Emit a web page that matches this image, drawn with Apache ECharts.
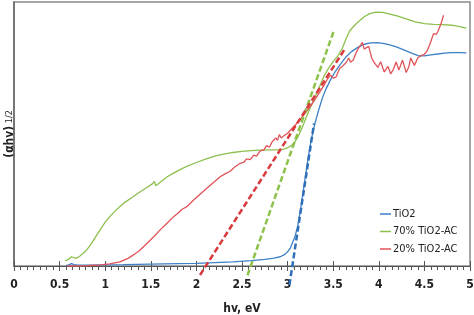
<!DOCTYPE html>
<html>
<head>
<meta charset="utf-8">
<script src="https://cdn.jsdelivr.net/npm/echarts@6/dist/echarts.min.js"></script>
<style>
  html, body { margin: 0; padding: 0; background: #fff; }
  #Mycharts { width: 474px; height: 315px; }
</style>
</head>
<body>
<div id="Mycharts"></div>
<script>
// x tick labels (hv, eV)
var xTicks = [0, 0.5, 1, 1.5, 2, 2.5, 3, 3.5, 4, 4.5, 5]
var legendNames = ['TiO2', '70% TiO2-AC', '20% TiO2-AC']

// measured curves, [hv, (αhv)^1/2] in arbitrary units (0..100)
var tio2 = [[0.57, 0.1], [0.6, 0.4], [0.63, 0.9], [0.66, 0.5], [0.7, 0.3], [0.8, 0.3], [1.0, 0.4], [1.2, 0.5], [1.5, 0.7], [1.8, 0.9], [2.0, 1.0], [2.2, 1.3], [2.4, 1.6], [2.6, 2.0], [2.75, 2.5], [2.85, 3.0], [2.92, 3.5], [2.97, 4.4], [3.0, 5.4], [3.03, 6.8], [3.05, 8.5], [3.08, 11], [3.11, 15], [3.14, 21], [3.17, 28], [3.2, 35], [3.23, 42], [3.26, 48], [3.3, 54], [3.34, 59], [3.38, 63.5], [3.42, 67], [3.47, 70.5], [3.52, 73.5], [3.58, 76.5], [3.64, 79.2], [3.7, 81.2], [3.77, 82.8], [3.84, 84], [3.91, 84.5], [3.99, 84.6], [4.06, 84.2], [4.13, 83.7], [4.2, 82.9], [4.28, 81.8], [4.36, 80.6], [4.43, 79.7], [4.5, 79.6], [4.57, 80], [4.65, 80.3], [4.72, 80.6], [4.8, 80.8], [4.88, 80.8], [4.96, 80.7]]
var tio2ac70 = [[0.56, 1.9], [0.6, 2.6], [0.63, 3.5], [0.65, 2.8], [0.68, 2.9], [0.72, 3.7], [0.76, 4.8], [0.8, 6.2], [0.85, 8.6], [0.9, 11.3], [0.95, 14], [1.0, 16.6], [1.05, 18.7], [1.1, 20.5], [1.16, 22.5], [1.22, 24.2], [1.31, 26.3], [1.38, 28], [1.46, 29.8], [1.52, 31.2], [1.54, 32], [1.555, 30.4], [1.6, 31.6], [1.68, 33.8], [1.75, 35.2], [1.82, 36.5], [1.9, 37.8], [2.0, 39.2], [2.1, 40.5], [2.2, 41.6], [2.3, 42.4], [2.4, 43], [2.5, 43.4], [2.6, 43.7], [2.7, 43.9], [2.8, 44], [2.9, 44], [2.96, 44.3], [3.0, 44.8], [3.04, 45.6], [3.08, 47], [3.12, 49.3], [3.16, 52.5], [3.2, 56], [3.25, 60], [3.3, 64], [3.35, 68], [3.4, 72], [3.45, 75], [3.5, 77.5], [3.55, 79.5], [3.6, 82.5], [3.64, 86], [3.68, 89], [3.73, 91], [3.78, 92.6], [3.84, 94.4], [3.9, 95.6], [3.97, 96.2], [4.04, 96.1], [4.1, 95.6], [4.2, 94.7], [4.3, 93.6], [4.4, 92.5], [4.5, 91.8], [4.6, 91.5], [4.7, 91.4], [4.8, 91.2], [4.9, 90.6], [4.96, 90.1]]
var tio2ac20 = [[0.58, 0], [0.7, 0], [0.8, 0.1], [0.95, 0.4], [1.05, 0.8], [1.16, 1.6], [1.25, 2.9], [1.31, 4.2], [1.38, 6], [1.46, 8.6], [1.53, 11], [1.6, 13.6], [1.68, 16.3], [1.75, 18.7], [1.8, 20.1], [1.84, 21.4], [1.86, 21], [1.9, 22.6], [1.97, 25], [2.04, 27.2], [2.12, 29.6], [2.2, 32], [2.26, 33.8], [2.32, 35], [2.37, 35.9], [2.42, 37.5], [2.48, 38.9], [2.52, 39.3], [2.55, 40.6], [2.59, 40.3], [2.63, 42], [2.66, 41.6], [2.7, 43.6], [2.74, 44], [2.77, 45.6], [2.8, 45], [2.83, 47], [2.85, 46.5], [2.87, 48.5], [2.89, 47.6], [2.91, 49.8], [2.93, 48.5], [2.96, 49.3], [3.0, 50.3], [3.05, 52.2], [3.1, 54], [3.15, 56], [3.2, 58.2], [3.25, 60.5], [3.3, 63], [3.35, 65.8], [3.4, 68.5], [3.44, 71], [3.47, 72.3], [3.5, 71.2], [3.53, 71.5], [3.57, 74.8], [3.6, 75.6], [3.64, 77], [3.67, 78.8], [3.69, 77.2], [3.72, 78], [3.75, 80.7], [3.78, 82.6], [3.82, 84.7], [3.84, 82.2], [3.86, 81.5], [3.89, 83.2], [3.92, 79], [3.95, 77], [3.99, 75.2], [4.02, 77.4], [4.06, 73.5], [4.1, 75.6], [4.13, 72.8], [4.16, 74.5], [4.19, 77.3], [4.22, 74.2], [4.26, 78], [4.3, 73.3], [4.33, 75.5], [4.35, 78.8], [4.39, 76], [4.43, 79], [4.47, 79.8], [4.5, 80.2], [4.53, 81.5], [4.56, 84], [4.6, 88], [4.63, 87.7], [4.65, 89], [4.67, 90.7], [4.69, 92.6], [4.71, 95]]

// Tauc extrapolation lines (end points)
var fitTio2 = [[3.02, -7.2], [3.29, 54]]
var fit70 = [[2.56, -3.5], [3.51, 89.4]]
var fit20 = [[2.04, -3.4], [3.62, 81.8]]

var font = "'Liberation Sans Narrow', 'DejaVu Sans Condensed', 'Arial Narrow', sans-serif"

var Mycharts = echarts.init(document.getElementById('Mycharts'))
Mycharts.setOption({
  animation: false,
  textStyle: { fontFamily: font },
  grid: {
    left: 14,
    right: 4,
    top: 2,
    bottom: 49,
    outerBoundsMode: 'none',
    containLabel: false,
    show: true,
    borderColor: '#8a8a8a',
    borderWidth: 1.5
  },
  legend: {
    orient: 'vertical',
    left: 380,
    top: 207,
    icon: 'rect',
    itemWidth: 11,
    itemHeight: 1.5,
    itemGap: 3.5,
    padding: 0,
    data: legendNames,
    textStyle: { fontSize: 11, color: '#222', fontFamily: font, lineHeight: 14, padding: [0, 0, 0, -3] }
  },
  xAxis: [
    {
      type: 'value',
      min: 0,
      max: 5,
      interval: 0.5,
      name: 'hv, eV',
      nameLocation: 'middle',
      nameGap: 37,
      nameTextStyle: { fontSize: 12, fontWeight: 'bold', color: '#222', fontFamily: font },
      axisLine: { lineStyle: { color: '#555', width: 1.2 } },
      axisTick: { length: 5, lineStyle: { color: '#555' } },
      minorTick: { show: true, splitNumber: 7, length: 4, lineStyle: { color: '#555' } },
      axisLabel: {
        margin: 13,
        fontSize: 12,
        fontWeight: 'bold',
        color: '#222',
        fontFamily: font,
        customValues: xTicks
      },
      splitLine: { show: false }
    },
    {
      type: 'value',
      min: 0,
      max: 5,
      interval: 0.5,
      position: 'bottom',
      axisLine: { show: false },
      axisTick: { inside: true, length: 5, lineStyle: { color: '#555' } },
      axisLabel: { show: false },
      splitLine: { show: false }
    }
  ],
  yAxis: {
    type: 'value',
    min: 0,
    max: 100,
    name: '{a|(αhv)}{s| 1/2}',
    nameLocation: 'middle',
    nameGap: -2,
    nameRotate: 90,
    nameTextStyle: {
      rich: {
        a: { fontSize: 12, fontWeight: 'bold', color: '#222', fontFamily: font, verticalAlign: 'bottom' },
        s: { fontSize: 9, color: '#222', fontFamily: font, verticalAlign: 'bottom', padding: [0, 0, 2, 0] }
      }
    },
    axisLine: { show: true, lineStyle: { color: '#666', width: 1.5 } },
    axisTick: { show: false },
    axisLabel: { show: false },
    splitLine: { show: false }
  },
  series: [
    {
      name: 'TiO2',
      type: 'line',
      data: tio2,
      showSymbol: false,
      color: '#3d80c6',
      lineStyle: { width: 1.3 }
    },
    {
      name: '70% TiO2-AC',
      type: 'line',
      data: tio2ac70,
      showSymbol: false,
      color: '#8cbf4e',
      lineStyle: { width: 1.3 }
    },
    {
      name: '20% TiO2-AC',
      type: 'line',
      data: tio2ac20,
      showSymbol: false,
      color: '#e05358',
      lineStyle: { width: 1.3 }
    },
    {
      name: 'TiO2 fit',
      type: 'line',
      data: fitTio2,
      showSymbol: false,
      clip: false,
      lineStyle: { color: '#2f6fb8', width: 2.5, type: [6, 3] }
    },
    {
      name: '70% fit',
      type: 'line',
      data: fit70,
      showSymbol: false,
      clip: false,
      lineStyle: { color: '#8dc149', width: 2.5, type: [6, 3] }
    },
    {
      name: '20% fit',
      type: 'line',
      data: fit20,
      showSymbol: false,
      clip: false,
      lineStyle: { color: '#d9393d', width: 2.5, type: [6, 3] }
    }
  ]
})
</script>
</body>
</html>
